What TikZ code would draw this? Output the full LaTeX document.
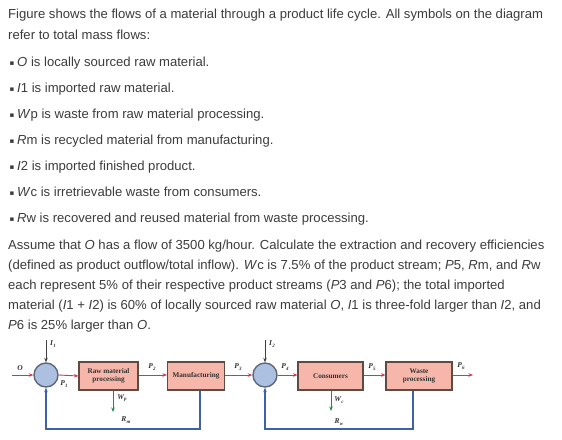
\documentclass[tikz,border=0pt]{standalone}
\usepackage{fontspec}
\setmainfont{Liberation Sans}
\newfontfamily\serifd{Liberation Serif}
\newfontfamily\symf{DejaVu Sans}
\usetikzlibrary{arrows.meta}
\definecolor{txt}{RGB}{60,60,60}
\definecolor{boxfill}{RGB}{246,182,170}
\definecolor{boxline}{RGB}{95,75,65}
\definecolor{circfill}{RGB}{172,192,226}
\definecolor{circline}{RGB}{95,105,115}
\definecolor{redflow}{RGB}{212,52,82}
\definecolor{greenflow}{RGB}{28,140,80}
\definecolor{blueflow}{RGB}{62,98,168}
\newcommand\flowlbl[2]{#1\kern0.2pt\raisebox{-1.5pt}{\fontsize{5}{5}\selectfont #2}}
\begin{document}
\begin{tikzpicture}[x=1pt,y=-1pt,
  txtline/.style={anchor=base west, inner sep=0pt, text=txt, font=\fontsize{13.1}{15}\selectfont},
  bulletmark/.style={anchor=base west, inner sep=0pt, text=txt, font=\symf\fontsize{7}{9}\selectfont},
  procbox/.style={draw=boxline, line width=1.1pt, fill=boxfill, minimum height=28pt, inner sep=0pt,
    align=center, font=\serifd\bfseries\fontsize{7.2}{8}\selectfont, text=black!80},
  mixer/.style={circle, draw=circline, line width=1.4pt, fill=circfill, minimum size=24pt, inner sep=0pt},
  flowtag/.style={inner sep=0pt, font=\serifd\bfseries\itshape\fontsize{7.5}{8}\selectfont, text=black!80},
  tip/.style={-{Stealth[length=4.5pt,width=3.5pt]}},
  redarr/.style={tip, draw=redflow, line width=0.9pt},
  greenarr/.style={tip, draw=greenflow, line width=1pt},
  bluearr/.style={tip, draw=blueflow, line width=1.1pt},
  darkarr/.style={tip, draw=black!75, line width=0.9pt}
]
\useasboundingbox (0,0) rectangle (562,439);
\fill[white] (0,0) rectangle (562,439);

% text
\node[txtline] (t1) at (8,19) {Figure shows the flows of a material through a product life cycle. All symbols on the diagram};
\node[txtline] (t2) at (8,39) {refer to total mass flows:};
\foreach \n/\y in {1/65,2/91,3/117,4/143,5/169,6/195,7/221}{
  \node[bulletmark] (m\n) at (9.5,\y) {▪};
}
\node[txtline] (b1) at (17,66) {\textit{O} is locally sourced raw material.};
\node[txtline] (b2) at (17,92) {\textit{I}1 is imported raw material.};
\node[txtline] (b3) at (17,118) {\textit{W}p is waste from raw material processing.};
\node[txtline] (b4) at (17,144) {\textit{R}m is recycled material from manufacturing.};
\node[txtline] (b5) at (17,170) {\textit{I}2 is imported finished product.};
\node[txtline] (b6) at (17,196) {\textit{W}c is irretrievable waste from consumers.};
\node[txtline] (b7) at (17,222) {\textit{R}w is recovered and reused material from waste processing.};
\node[txtline] (p1) at (8,249) {Assume that \textit{O} has a flow of 3500 kg/hour. Calculate the extraction and recovery efficiencies};
\node[txtline] (p2) at (8,269) {(defined as product outflow/total inflow). \textit{W}c is 7.5\% of the product stream; \textit{P}5, \textit{R}m, and \textit{R}w};
\node[txtline] (p3) at (8,289) {each represent 5\% of their respective product streams (\textit{P}3 and \textit{P}6); the total imported};
\node[txtline] (p4) at (8,309) {material (\textit{I}1 + \textit{I}2) is 60\% of locally sourced raw material \textit{O}, \textit{I}1 is three-fold larger than \textit{I}2, and};
\node[txtline] (p5) at (8,329) {\textit{P}6 is 25\% larger than \textit{O}.};

% diagram nodes
\node[mixer] (c1) at (46,375) {};
\node[procbox, minimum width=59pt] (raw) at (108.5,376) {Raw material\\processing};
\node[procbox, minimum width=57pt] (man) at (196,376) {Manufacturing};
\node[mixer] (c2) at (265,375) {};
\node[procbox, minimum width=65pt] (con) at (330.5,376) {Consumers};
\node[procbox, minimum width=66pt] (wst) at (419,376) {Waste\\processing};

\coordinate (oin) at (12,375);
\coordinate (i1in) at (46,340);
\coordinate (i2in) at (265,340);
\coordinate (p6out) at (473,375);
\coordinate (wpend) at (113,412);
\coordinate (wcend) at (331,411);
\coordinate (rmc) at (200,429);
\coordinate (rwc) at (413,429);

\draw[redarr] (oin) -- (c1.west);
\draw[darkarr] (i1in) -- (c1.north);
\draw[redarr] (c1.east) -- (raw.west);
\draw[redarr] (raw.east |- c1) -- (man.west |- c1);
\draw[redarr] (man.east |- c1) -- (c2.west);
\draw[darkarr] (i2in) -- (c2.north);
\draw[redarr] (c2.east) -- (con.west |- c2);
\draw[redarr] (con.east |- c2) -- (wst.west |- c2);
\draw[redarr] (wst.east |- c2) -- (p6out);
\draw[greenarr] (raw.south -| wpend) -- (wpend);
\draw[greenarr] (con.south -| wcend) -- (wcend);
\draw[bluearr] (man.south -| rmc) -- (rmc) -| (c1.south);
\draw[bluearr] (wst.south -| rwc) -- (rwc) -| (c2.south);

% labels
\node[flowtag] (lo) at (20,368) {O};
\node[flowtag] (li1) at (53,344) {\flowlbl{I}{1}};
\node[flowtag] (lp1) at (64,384) {\flowlbl{P}{1}};
\node[flowtag] (lp2) at (152,367) {\flowlbl{P}{2}};
\node[flowtag] (lp3) at (238,367) {\flowlbl{P}{3}};
\node[flowtag] (li2) at (272,344) {\flowlbl{I}{2}};
\node[flowtag] (lp4) at (285,367) {\flowlbl{P}{4}};
\node[flowtag] (lp5) at (372,367) {\flowlbl{P}{5}};
\node[flowtag] (lp6) at (461,366) {\flowlbl{P}{6}};
\node[flowtag] (lwp) at (122,398) {\flowlbl{W}{p}};
\node[flowtag] (lrm) at (126,420) {\flowlbl{R}{m}};
\node[flowtag] (lwc) at (339,400) {\flowlbl{W}{c}};
\node[flowtag] (lrw) at (339,422) {\flowlbl{R}{w}};
\end{tikzpicture}
\end{document}
